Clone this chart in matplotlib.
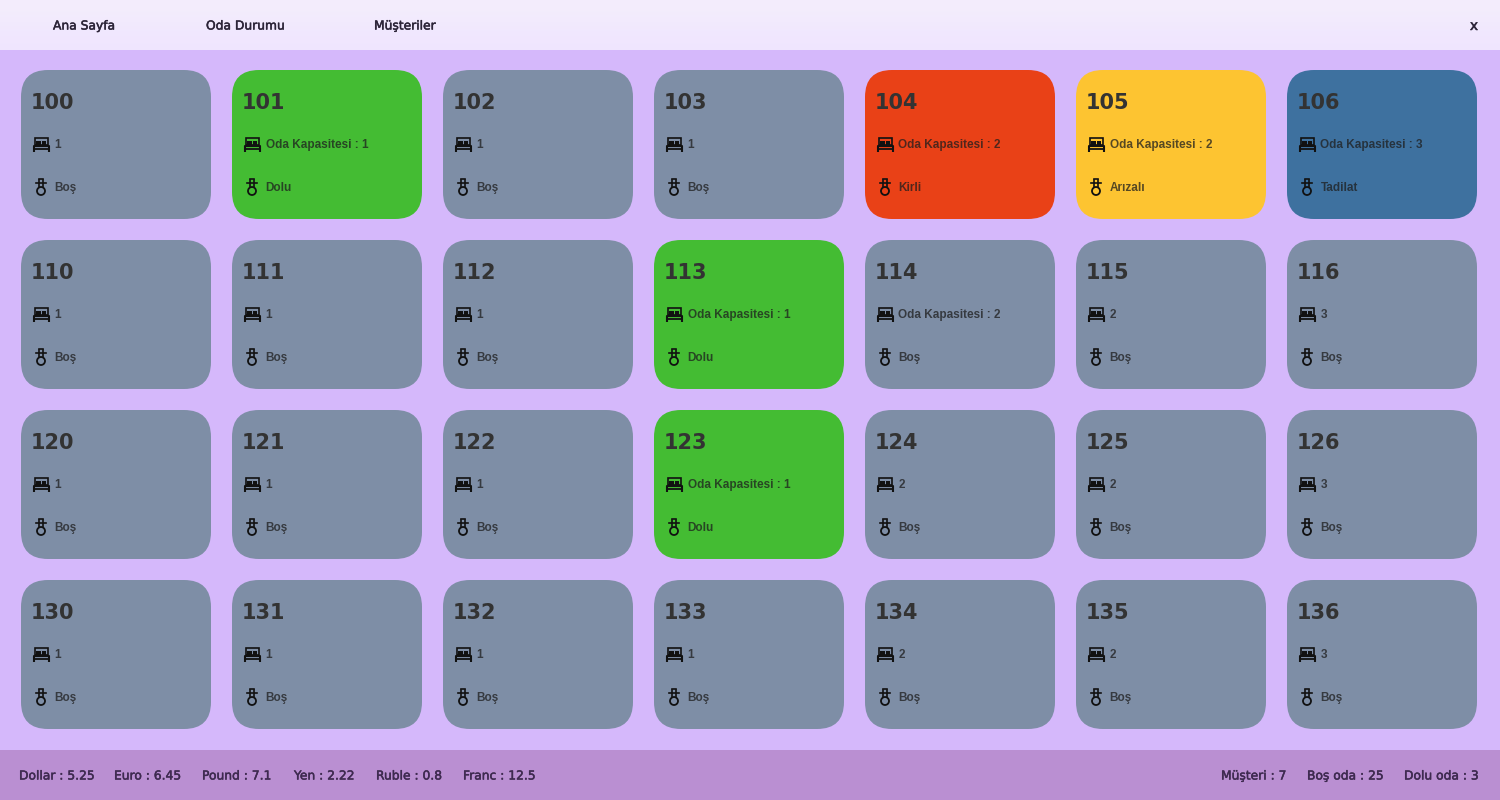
import matplotlib
matplotlib.use("Agg")
import matplotlib.pyplot as plt
import matplotlib.patheffects as pe
from matplotlib.patches import FancyBboxPatch, Rectangle, Circle

rooms = [100,101,102,103,104,105,106,
         110,111,112,113,114,115,116,
         120,121,122,123,124,125,126,
         130,131,132,133,134,135,136]
capacities = [1,1,1,1,2,2,3,
              1,1,1,1,2,2,3,
              1,1,1,1,2,2,3,
              1,1,1,1,2,2,3]
statuses = ["Boş","Dolu","Boş","Boş","Kirli","Arızalı","Tadilat",
            "Boş","Boş","Boş","Dolu","Boş","Boş","Boş",
            "Boş","Boş","Boş","Dolu","Boş","Boş","Boş",
            "Boş","Boş","Boş","Boş","Boş","Boş","Boş"]
long_caption_rooms = [101,104,105,106,113,114,123]
nav_labels = ["Ana Sayfa","Oda Durumu","Müşteriler"]
rates = ["Dollar : 5.25","Euro : 6.45","Pound : 7.1","Yen : 2.22","Ruble : 0.8","Franc : 12.5"]
counts = ["Müşteri : 7","Boş oda : 25","Dolu oda : 3"]

status_colors = {"Boş":"#7e8ea6","Dolu":"#44bc33","Kirli":"#e94117","Arızalı":"#fdc431","Tadilat":"#3e719f"}

fig = plt.figure(figsize=(15,8),dpi=100)
ax = fig.add_axes([0,0,1,1])
ax.set_xlim(0,1500); ax.set_ylim(800,0); ax.axis("off")

ax.add_patch(Rectangle((0,0),1500,800,fc="#d5b8fb",ec="none",zorder=0))
grad = [[[0.955,0.93,0.99]],[[0.94,0.90,1.0]]]
ax.imshow(grad,extent=(0,1500,50,0),aspect="auto",zorder=1,interpolation="bicubic")
ax.set_xlim(0,1500); ax.set_ylim(800,0)
ax.add_patch(Rectangle((0,750),1500,50,fc="#ba8fd2",ec="none",zorder=1))

UI = "DejaVu Sans"
def ui_text(x,y,s,color,size=8.85,ha="left"):
    t = ax.text(x,y,s,family=UI,fontsize=size,color=color,va="center",ha=ha,zorder=3)
    t.set_path_effects([pe.withStroke(linewidth=0.35,foreground=color)])

for x,s in zip([53,206,374],nav_labels):
    ui_text(x,26,s,"#2c2438")
ui_text(1474,26,"x","#2c2438",size=10,ha="center")
for x,s in zip([19,114,202,294,376,463],rates):
    ui_text(x,776,s,"#3e2a50")
for x,s in zip([1221,1307,1404],counts):
    ui_text(x,776,s,"#3e2a50")

INK = "#111111"
def bed(x,y):
    ax.add_patch(Rectangle((x+1.6,y-6.6),13.4,7,fc="none",ec=INK,lw=1.2,zorder=4))
    ax.plot([x+0.5,x+0.5,x+16,x+16],[y+7.5,y+1.2,y+1.2,y+7.5],color=INK,lw=1.5,zorder=4,solid_capstyle="butt")
    ax.plot([x+0.5,x+16],[y+4.8,y+4.8],color=INK,lw=1.3,zorder=4)
    for dx in (3.4,9):
        ax.add_patch(Rectangle((x+dx,y-3.2),4.4,3.4,fc=INK,ec="none",zorder=4))

def thermo(x,y):
    ax.add_patch(Circle((x,y+4),4.0,fc="none",ec=INK,lw=1.3,zorder=4))
    for dx in (-1.9,1.9):
        ax.plot([x+dx,x+dx],[y+0.4,y-7.5],color=INK,lw=1.2,zorder=4)
    ax.plot([x-1.9,x+1.9],[y-8.5,y-8.5],color=INK,lw=1.2,zorder=4)
    ax.plot([x-4.6,x+4.6],[y-4.5,y-4.5],color=INK,lw=1.2,zorder=4)

W,H,R = 190,149,27
for i,(num,cap,st) in enumerate(zip(rooms,capacities,statuses)):
    c,r = i%7,i//7
    x0 = 21+211*c; y0 = 70+170*r
    ax.add_patch(FancyBboxPatch((x0+R,y0+R),W-2*R,H-2*R,boxstyle=f"round,pad={R},rounding_size={R}",
                                fc=status_colors[st],ec="none",zorder=2))
    ax.text(x0+10,y0+33,str(num),family="DejaVu Sans",fontweight="bold",fontsize=15,color="#333333",
            va="center",ha="left",zorder=3)
    cap_txt = f"Oda Kapasitesi : {cap}" if num in long_caption_rooms else str(cap)
    bed(x0+12,y0+74.5)
    ax.text(x0+33.5,y0+75,cap_txt,family="Liberation Sans",fontweight="bold",fontsize=8.45,color="#1e1e1e",
            alpha=0.75,va="center",ha="left",zorder=3)
    thermo(x0+20,y0+117)
    ax.text(x0+33.5,y0+118,st,family="Liberation Sans",fontweight="bold",fontsize=8.45,color="#1e1e1e",
            alpha=0.75,va="center",ha="left",zorder=3)

fig.savefig("out.png",dpi=100)
